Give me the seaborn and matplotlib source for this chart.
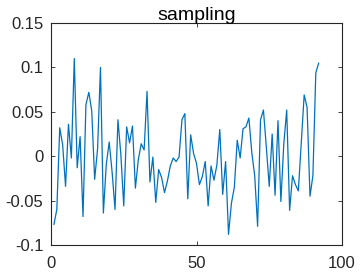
import matplotlib
matplotlib.use("Agg")
import matplotlib.pyplot as plt
import seaborn as sns
import pandas as pd

values = [
    -0.077, -0.060, 0.032, 0.013, -0.034, 0.036, -0.002, 0.110, -0.013, 0.022,
    -0.068, 0.058, 0.072, 0.051, -0.026, 0.008, 0.100, -0.064, -0.009, 0.016,
    -0.018, -0.060, 0.041, 0.002, -0.056, 0.033, 0.015, 0.034, -0.036, -0.004,
    0.014, 0.007, 0.073, -0.029, -0.001, -0.052, -0.015, -0.024, -0.041, -0.028,
    -0.011, -0.002, -0.006, -0.001, 0.041, 0.048, -0.048, 0.024, 0.003, -0.008,
    -0.032, -0.023, -0.006, -0.056, -0.011, -0.027, -0.010, 0.030, -0.043, -0.006,
    -0.088, -0.053, -0.035, 0.018, -0.002, 0.031, 0.033, 0.043, 0.004, -0.022,
    -0.079, 0.041, 0.052, 0.010, -0.034, 0.025, -0.044, 0.040, -0.051, 0.014,
    0.052, -0.061, -0.022, -0.032, -0.039, 0.015, 0.069, 0.055, -0.045, -0.022,
    0.094, 0.105,
]
index = list(range(1, len(values) + 1))
x_ticks = [0, 50, 100]
y_ticks = [-0.1, -0.05, 0, 0.05, 0.1, 0.15]
y_tick_labels = ["-0.1", "-0.05", "0", "0.05", "0.1", "0.15"]
title = "sampling"

df = pd.DataFrame({"n": index, "v": values})

sns.set_style("white")
plt.rcParams["font.family"] = ["Liberation Sans", "DejaVu Sans"]

fig = plt.figure(figsize=(3.6, 2.76), dpi=100)
ax = fig.add_axes([51 / 360, 1 - 245 / 276, 291 / 360, 222 / 276])
sns.lineplot(data=df, x="n", y="v", ax=ax, color="#0072BD", linewidth=0.9)

ax.set_xlim(0, 100)
ax.set_ylim(-0.1, 0.15)
ax.set_xticks(x_ticks)
ax.set_xticklabels([str(t) for t in x_ticks])
ax.set_yticks(y_ticks)
ax.set_yticklabels(y_tick_labels)
ax.set_xlabel("")
ax.set_ylabel("")
ax.set_title(title, fontsize=14, color="#000000", pad=2)

for s in ax.spines.values():
    s.set_visible(True)
    s.set_color("#262626")
    s.set_linewidth(0.8)
ax.tick_params(direction="in", length=3, width=0.6, colors="#262626",
               labelcolor="#262626", labelsize=12, top=True, right=True,
               bottom=True, left=True)
ax.tick_params(axis="x", pad=8)
ax.tick_params(axis="y", pad=5.5)
ax.grid(False)

fig.savefig("out.png", dpi=100)
